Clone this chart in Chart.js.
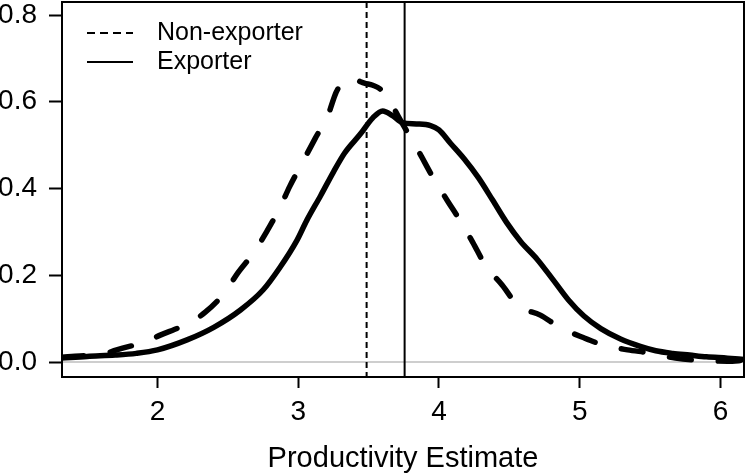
<!DOCTYPE html>
<html><head><meta charset="utf-8">
<script src="https://cdn.jsdelivr.net/npm/chart.js@4"></script>
<style>html,body{margin:0;padding:0;background:#fff;overflow:hidden}</style>
</head><body>
<canvas id="c" width="746" height="473"></canvas>
<script>
// ---- data ----
const seriesNames = ['Non-exporter', 'Exporter'];
const nonExporterX = [1.32,1.45,1.59,1.71,1.80,1.90,2.02,2.12,2.21,2.34,2.48,2.57,2.69,2.78,2.87,2.94,3.03,3.12,3.21,3.27,3.31,3.36,3.41,3.47,3.53,3.58,3.65,3.72,3.79,3.86,3.95,4.06,4.15,4.24,4.33,4.45,4.56,4.72,4.86,5.02,5.17,5.34,5.50,5.68,5.90,6.05,6.17];
const nonExporterY = [0.011,0.014,0.016,0.028,0.036,0.044,0.062,0.075,0.087,0.115,0.161,0.205,0.255,0.303,0.356,0.405,0.460,0.515,0.568,0.622,0.643,0.653,0.650,0.643,0.638,0.630,0.602,0.561,0.522,0.483,0.430,0.372,0.326,0.276,0.223,0.177,0.131,0.108,0.080,0.057,0.039,0.028,0.021,0.009,0.003,0.002,0.004];
const exporterX = [1.32,1.50,1.70,1.85,2.00,2.21,2.40,2.59,2.75,2.87,2.99,3.06,3.16,3.25,3.33,3.44,3.53,3.60,3.67,3.74,3.84,3.94,4.00,4.08,4.18,4.28,4.38,4.48,4.58,4.70,4.81,4.92,5.03,5.15,5.29,5.43,5.54,5.66,5.78,5.90,6.05,6.17];
const exporterY = [0.009,0.013,0.016,0.020,0.028,0.051,0.080,0.120,0.166,0.218,0.280,0.326,0.384,0.438,0.482,0.525,0.563,0.579,0.568,0.552,0.549,0.545,0.535,0.505,0.468,0.425,0.374,0.322,0.278,0.236,0.190,0.143,0.106,0.077,0.053,0.036,0.026,0.020,0.016,0.012,0.009,0.006];
const meanLines = [3.486, 3.756];   // Non-exporter mean (dashed), Exporter mean (solid)
const xTicks = [2, 3, 4, 5, 6];
const xTickLabels = ['2', '3', '4', '5', '6'];
const yTicks = [0, 0.2, 0.4, 0.6, 0.8];
const yTickLabels = ['0.0', '0.2', '0.4', '0.6', '0.8'];
const xTitle = 'Productivity Estimate';
const xRange = [1.322, 6.167];
const yRange = [-0.0345, 0.83];

// ---- chart ----
const FONT = 'Liberation Sans, Arial, sans-serif';
const toPts = (xs, ys) => xs.map((x, i) => ({x, y: ys[i]}));

const decor = {
  id: 'decor',
  beforeDatasetsDraw(chart) {
    const {ctx, chartArea: a, scales: {y}} = chart;
    ctx.save();
    ctx.strokeStyle = '#bebebe';
    ctx.lineWidth = 1.6;
    const y0 = y.getPixelForValue(0);
    ctx.beginPath(); ctx.moveTo(a.left, y0); ctx.lineTo(a.right, y0); ctx.stroke();
    ctx.restore();
  },
  afterDatasetsDraw(chart) {
    const {ctx, chartArea: a, scales: {x}} = chart;
    ctx.save();
    ctx.strokeStyle = '#000';
    ctx.lineWidth = 2;
    meanLines.forEach((m, i) => {
      const px = x.getPixelForValue(m);
      ctx.setLineDash(i === 0 ? [6, 4] : []);
      ctx.beginPath(); ctx.moveTo(px, a.top); ctx.lineTo(px, a.bottom); ctx.stroke();
    });
    ctx.setLineDash([]);
    ctx.strokeRect(a.left, a.top, a.right - a.left, a.bottom - a.top);
    const lx = a.left + 25, ly = a.top + 31, gap = 29;
    ctx.font = '25px ' + FONT;
    ctx.fillStyle = '#000';
    ctx.textBaseline = 'middle';
    ctx.textAlign = 'left';
    seriesNames.forEach((name, i) => {
      const yy = ly + i * gap;
      ctx.setLineDash(i === 0 ? [8, 5] : []);
      ctx.beginPath(); ctx.moveTo(lx, yy); ctx.lineTo(lx + 46, yy); ctx.stroke();
      ctx.fillText(name, lx + 70, yy);
    });
    ctx.restore();
  }
};

new Chart(document.getElementById('c'), {
  type: 'line',
  data: {
    datasets: [
      {label: seriesNames[0], data: toPts(nonExporterX, nonExporterY), borderColor: '#000', borderWidth: 5.5,
       borderDash: [22, 27], borderCapStyle: 'round', borderJoinStyle: 'round', pointRadius: 0,
       cubicInterpolationMode: 'monotone', fill: false},
      {label: seriesNames[1], data: toPts(exporterX, exporterY), borderColor: '#000', borderWidth: 5.5,
       borderCapStyle: 'round', borderJoinStyle: 'round', pointRadius: 0,
       cubicInterpolationMode: 'monotone', fill: false}
    ]
  },
  options: {
    responsive: false, animation: false, devicePixelRatio: 1,
    layout: {padding: {top: 2, right: 2, left: 0, bottom: 0}},
    plugins: {legend: {display: false}, tooltip: {enabled: false}},
    scales: {
      x: {
        type: 'linear', min: xRange[0], max: xRange[1],
        afterBuildTicks: s => { s.ticks = xTicks.map(v => ({value: v})); },
        afterFit: s => { s.height = 96; s.paddingLeft = 0; s.paddingRight = 0; },
        ticks: {callback: v => xTickLabels[xTicks.indexOf(v)], font: {family: FONT, size: 28}, color: '#000',
                padding: 7, maxRotation: 0, autoSkip: false},
        grid: {drawOnChartArea: false, drawTicks: true, tickLength: 11, tickWidth: 2, tickColor: '#000'},
        border: {display: false},
        title: {display: true, text: xTitle, color: '#000', font: {family: FONT, size: 29, lineHeight: 1},
                padding: {top: 0, bottom: 0}}
      },
      y: {
        type: 'linear', min: yRange[0], max: yRange[1],
        afterBuildTicks: s => { s.ticks = yTicks.map(v => ({value: v})); },
        afterFit: s => { s.width = 62; s.paddingTop = 0; s.paddingBottom = 0; },
        ticks: {callback: v => yTickLabels[yTicks.indexOf(v)], font: {family: FONT, size: 28}, color: '#000',
                padding: 12, autoSkip: false},
        grid: {drawOnChartArea: false, drawTicks: true, tickLength: 13, tickWidth: 2, tickColor: '#000'},
        border: {display: false}
      }
    }
  },
  plugins: [decor]
});
</script>
</body></html>
